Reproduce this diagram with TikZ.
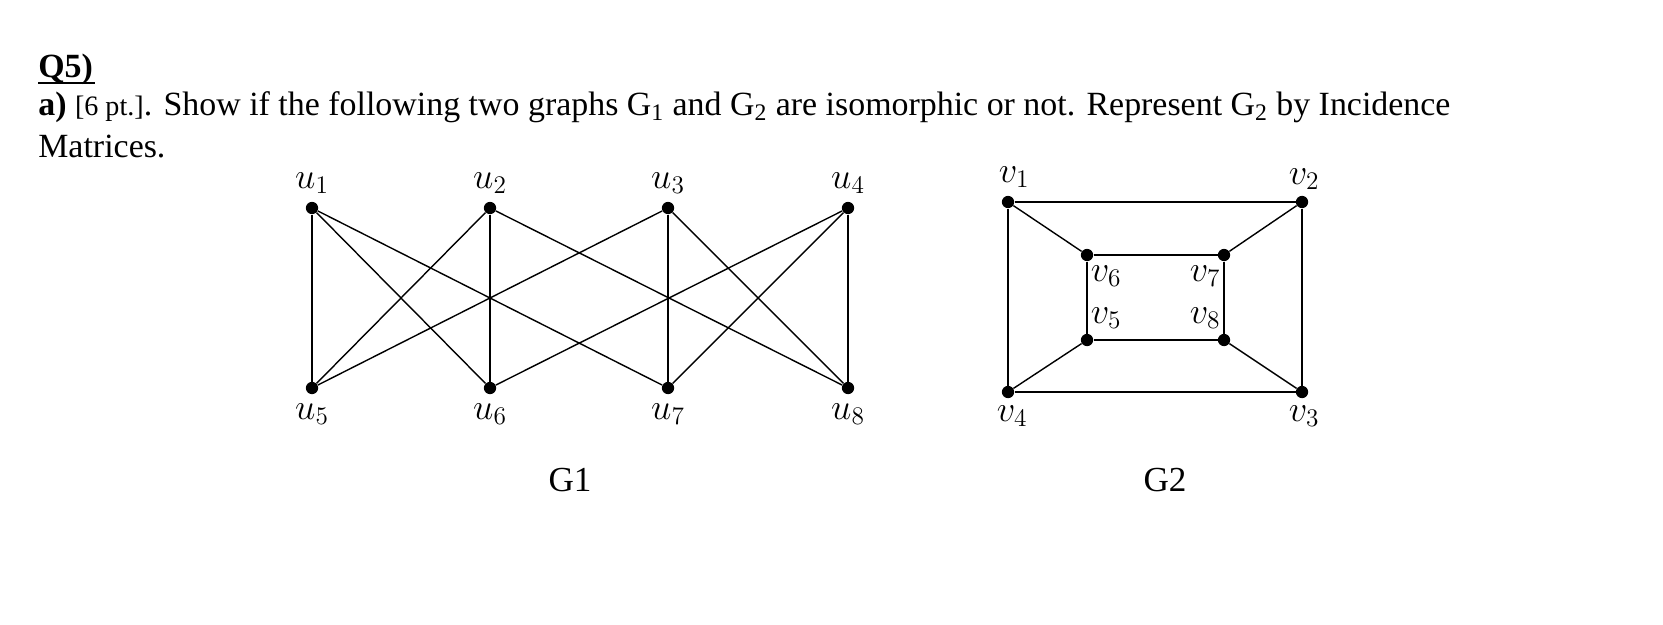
\documentclass[tikz,border=0pt]{standalone}
\usepackage{fontspec}
\setmainfont{Liberation Serif}
\begin{document}
\begin{tikzpicture}[x=0.02cm,y=-0.02cm,
  dot/.style={circle,fill=black,inner sep=0pt,minimum size=7pt},
  lab/.style={font=\fontsize{20}{20}\selectfont},
  txt/.style={anchor=base west,inner sep=0pt,font=\fontsize{19.3}{22}\selectfont},
  edge/.style={line width=0.8pt}]
\useasboundingbox (0,0) rectangle (1663,625);
\node[txt] (t1) at (38,78) {\textbf{Q5)}};
\draw[line width=1pt] (38,83) -- (95,83);
\node[txt] (t2) at (38,115) {\textbf{a)} {\fontsize{16}{18}\selectfont[6 pt.]}. Show if the following two graphs G\textsubscript{1} and G\textsubscript{2} are isomorphic or not. Represent G\textsubscript{2} by Incidence};
\node[txt] (t3) at (38,157) {Matrices.};
% G1
\foreach \n/\x in {1/312,2/490,3/668,4/848}{
  \node[dot] (u\n) at (\x,208) {};
  \node[lab] (lu\n) at (\x,183) {$u_{\n}$};}
\foreach \n/\x in {5/312,6/490,7/668,8/848}{
  \node[dot] (u\n) at (\x,388) {};
  \node[lab] (lu\n) at (\x,414) {$u_{\n}$};}
\foreach \a/\b in {1/5,1/6,1/7,2/5,2/6,2/8,3/5,3/7,3/8,4/6,4/7,4/8}
  \draw[edge] (u\a) -- (u\b);
\node[lab] (g1) at (570,480) {G1};
% G2
\node[dot] (v1) at (1008,202) {};
\node[dot] (v2) at (1302,202) {};
\node[dot] (v3) at (1302,392) {};
\node[dot] (v4) at (1008,392) {};
\node[dot] (v6) at (1087,255) {};
\node[dot] (v7) at (1224,255) {};
\node[dot] (v5) at (1087,340) {};
\node[dot] (v8) at (1224,340) {};
\foreach \a/\b in {1/2,2/3,3/4,4/1,6/7,7/8,8/5,5/6,1/6,2/7,3/8,4/5}
  \draw[edge] (v\a) -- (v\b);
\node[lab] (lv1) at (1014,177) {$v_1$};
\node[lab] (lv2) at (1304,179) {$v_2$};
\node[lab] (lv3) at (1304,416) {$v_3$};
\node[lab] (lv4) at (1012,416) {$v_4$};
\node[lab] (lv6) at (1106,276) {$v_6$};
\node[lab] (lv7) at (1205,276) {$v_7$};
\node[lab] (lv5) at (1106,318) {$v_5$};
\node[lab] (lv8) at (1205,318) {$v_8$};
\node[lab] (g2) at (1165,480) {G2};
\end{tikzpicture}
\end{document}
